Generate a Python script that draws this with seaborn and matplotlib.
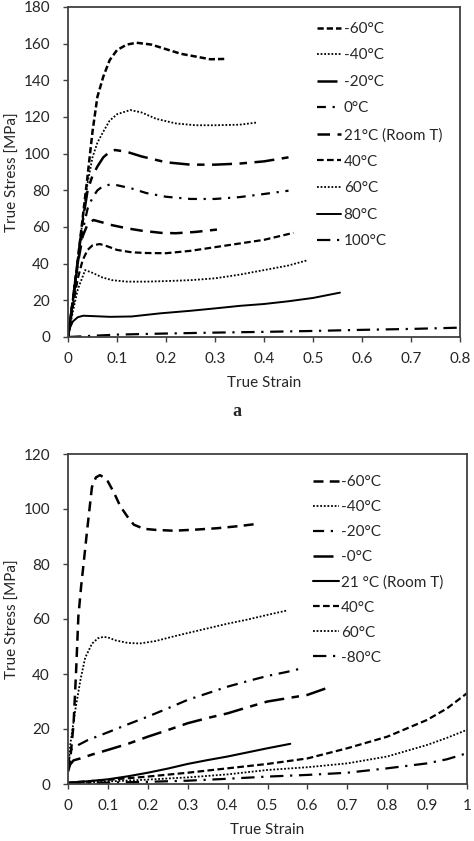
import matplotlib.pyplot as plt
import seaborn as sns
import numpy as np

sns.set_style("white")
plt.rcParams['font.family'] = ['Lato', 'DejaVu Sans']

# ==========================================
# DATA: panel (a)
# ==========================================
a_labels = ['-60°C', '-40°C', '-20°C', '0°C', '21°C (Room T)', '40°C', '60°C', '80°C', '100°C']

a_strain_m60 = [0, 0.01, 0.02, 0.03, 0.04, 0.05, 0.06, 0.072, 0.085, 0.1, 0.12, 0.14, 0.17, 0.2, 0.23, 0.26, 0.29, 0.324]
a_stress_m60 = [0, 20, 42, 65, 88, 112, 131, 142, 151, 156.5, 159.5, 160.5, 159.5, 157, 154.5, 153, 151.5, 151.7]

a_strain_m40 = [0, 0.01, 0.02, 0.03, 0.04, 0.05, 0.06, 0.072, 0.085, 0.1, 0.127, 0.15, 0.18, 0.22, 0.26, 0.3, 0.35, 0.386]
a_stress_m40 = [0, 20, 42, 64, 84, 98, 106, 112, 118, 121.5, 123.8, 122.5, 119, 116.5, 115.5, 115.5, 115.8, 117]

a_strain_m20 = [0, 0.01, 0.02, 0.03, 0.04, 0.05, 0.06, 0.072, 0.085, 0.096, 0.12, 0.15, 0.2, 0.25, 0.3, 0.35, 0.4, 0.45]
a_stress_m20 = [0, 20, 42, 63, 80, 88, 93, 98, 101, 102, 101, 98.5, 95.3, 94, 94, 94.6, 95.8, 98]

a_strain_0 = [0, 0.01, 0.02, 0.03, 0.04, 0.05, 0.06, 0.07, 0.086, 0.1, 0.13, 0.16, 0.2, 0.25, 0.3, 0.35, 0.4, 0.45]
a_stress_0 = [0, 20, 40, 58, 70, 76, 80, 82, 83.2, 82.8, 81, 78.5, 76.5, 75.3, 75.3, 76.3, 78, 79.8]

a_strain_21 = [0, 0.01, 0.02, 0.03, 0.04, 0.052, 0.07, 0.09, 0.12, 0.15, 0.19, 0.22, 0.26, 0.304]
a_stress_21 = [0, 20, 40, 55, 61.5, 63.8, 62.5, 61, 59.3, 58, 56.8, 56.6, 57.3, 58.6]

a_strain_40 = [0, 0.01, 0.02, 0.03, 0.04, 0.05, 0.065, 0.08, 0.1, 0.13, 0.16, 0.2, 0.25, 0.3, 0.35, 0.4, 0.46]
a_stress_40 = [0, 17, 32, 42, 47.5, 50, 50.7, 49.5, 47.5, 46.2, 45.8, 45.7, 47, 49, 51, 53, 56.8]

a_strain_60 = [0, 0.01, 0.02, 0.035, 0.05, 0.07, 0.09, 0.12, 0.16, 0.2, 0.25, 0.3, 0.35, 0.4, 0.45, 0.489]
a_stress_60 = [0, 14, 26, 36.5, 35, 32.5, 31, 30.2, 30.2, 30.5, 31, 32, 34, 36.5, 39, 41.9]

a_strain_80 = [0, 0.004, 0.01, 0.02, 0.031, 0.05, 0.086, 0.13, 0.188, 0.25, 0.3, 0.351, 0.4, 0.45, 0.5, 0.555]
a_stress_80 = [0, 5, 8.5, 10.8, 11.6, 11.4, 11, 11.2, 12.9, 14.3, 15.6, 17, 18, 19.5, 21.3, 24.2]

a_strain_100 = [0, 0.1, 0.2, 0.3, 0.4, 0.5, 0.6, 0.7, 0.8]
a_stress_100 = [0, 1.3, 1.9, 2.4, 2.8, 3.3, 3.9, 4.4, 5.1]

# ==========================================
# DATA: panel (b)
# ==========================================
b_labels = ['-60°C', '-40°C', '-20°C', '-0°C', '21 °C (Room T)', '40°C', '60°C', '-80°C']

b_strain_m60 = [0, 0.005, 0.014, 0.02, 0.026, 0.033, 0.039, 0.047, 0.06, 0.07, 0.08, 0.09, 0.1, 0.115, 0.131, 0.15, 0.165, 0.19, 0.22, 0.265, 0.32, 0.373, 0.43, 0.48]
b_stress_m60 = [5, 8, 22, 40, 61, 72, 80, 91, 108, 111.5, 112.3, 111.5, 110, 106, 101, 97, 94.3, 92.8, 92.4, 92.1, 92.5, 93, 93.8, 94.7]

b_strain_m40 = [0, 0.006, 0.018, 0.031, 0.043, 0.06, 0.075, 0.089, 0.1, 0.12, 0.15, 0.18, 0.22, 0.26, 0.3, 0.35, 0.4, 0.45, 0.5, 0.549]
b_stress_m40 = [5, 14.7, 26.7, 37.7, 45.9, 51, 53, 53.5, 53.3, 52.2, 51.3, 51.1, 52, 53.5, 54.9, 56.6, 58.3, 59.8, 61.5, 63.1]

b_strain_m20 = [0, 0.004, 0.01, 0.05, 0.1, 0.15, 0.2, 0.25, 0.3, 0.35, 0.4, 0.45, 0.5, 0.55, 0.587]
b_stress_m20 = [6, 10.5, 13, 16, 18.8, 21.7, 24.5, 27.5, 30.6, 33, 35.4, 37.4, 39.3, 40.8, 42.1]

b_strain_0 = [0, 0.005, 0.014, 0.031, 0.06, 0.1, 0.15, 0.2, 0.25, 0.3, 0.35, 0.4, 0.45, 0.5, 0.55, 0.6, 0.647]
b_stress_0 = [4.5, 7, 8.6, 9.3, 10.7, 12.4, 14.6, 17.2, 19.6, 22.1, 24, 25.7, 27.9, 30, 31.2, 32.4, 34.8]

b_strain_21 = [0, 0.05, 0.1, 0.15, 0.2, 0.25, 0.3, 0.35, 0.4, 0.45, 0.5, 0.557]
b_stress_21 = [0.5, 1.0, 1.7, 2.8, 4.1, 5.6, 7.3, 8.7, 10, 11.5, 13, 14.6]

b_strain_40 = [0, 0.1, 0.2, 0.3, 0.4, 0.5, 0.6, 0.7, 0.8, 0.9, 0.95, 1.0]
b_stress_40 = [0.5, 1.5, 2.7, 4.1, 5.7, 7.3, 9.3, 13, 17.2, 23.3, 27.5, 33]

b_strain_60 = [0, 0.1, 0.2, 0.3, 0.4, 0.5, 0.6, 0.7, 0.8, 0.9, 0.95, 1.0]
b_stress_60 = [0.3, 0.9, 1.6, 2.4, 3.5, 5.1, 6.1, 7.5, 10, 14.2, 16.8, 19.7]

b_strain_80 = [0, 0.1, 0.2, 0.3, 0.4, 0.5, 0.6, 0.7, 0.8, 0.9, 0.95, 1.0]
b_stress_80 = [0.2, 0.5, 0.8, 1.2, 1.9, 2.7, 3.3, 4.1, 5.7, 7.5, 9, 11.2]

a_xticks = [0, 0.1, 0.2, 0.3, 0.4, 0.5, 0.6, 0.7, 0.8]
a_yticks = [0, 20, 40, 60, 80, 100, 120, 140, 160, 180]
b_xticks = [0, 0.1, 0.2, 0.3, 0.4, 0.5, 0.6, 0.7, 0.8, 0.9, 1]
b_yticks = [0, 20, 40, 60, 80, 100, 120]

# line styles (Excel-like dash patterns)
a_styles = [(0, (2.5, 1.2)), (0, (1, 1)), (0, (8, 3, 3, 3)), (0, (4, 3, 1, 3)),
            (0, (5, 3)), (0, (3, 1.5)), (0, (1, 1)), '-', (0, (6, 3, 1, 3))]
b_styles = [(0, (4, 2.5)), (0, (1, 1)), (0, (5, 3, 1, 3)), (0, (8, 3, 3, 3)),
            '-', (0, (3, 1.5)), (0, (1, 1)), (0, (6, 3, 1, 3))]
a_widths = [1.8, 1.3, 1.8, 1.6, 1.8, 1.6, 1.3, 1.4, 1.6]
b_widths = [1.8, 1.3, 1.6, 1.8, 1.5, 1.6, 1.3, 1.6]

FS = 11
W, H = 474, 841
fig = plt.figure(figsize=(W / 100, H / 100), dpi=100)
ax1 = fig.add_axes([68 / W, 1 - 337 / H, 392 / W, 330 / H])
ax2 = fig.add_axes([68 / W, 1 - 784 / H, 399 / W, 330 / H])


def fmt(v):
    return f"{v:g}"


def style_axes(ax, xticks, yticks, width_px):
    ax.set_xlim(xticks[0], xticks[-1])
    ax.set_ylim(yticks[0], yticks[-1])
    ax.set_xticks(xticks)
    ax.set_yticks(yticks)
    ax.set_xticklabels([fmt(v) for v in xticks])
    ax.set_yticklabels([fmt(v) for v in yticks])
    for s in ax.spines.values():
        s.set_color('#404040')
        s.set_linewidth(1.3)
    ax.tick_params(axis='x', direction='out', length=3.6, width=1, color='#404040',
                   labelsize=FS, pad=7, bottom=True)
    ax.tick_params(axis='y', direction='out', length=3.6, width=1, color='#404040',
                   labelsize=FS, pad=9.4, left=True)
    ax.set_xlabel("True Strain", fontsize=FS)
    ax.set_ylabel("True Stress [MPa]", fontsize=FS)
    ax.xaxis.set_label_coords(0.5, -39 / 330)
    ax.yaxis.set_label_coords(-48 / width_px, 0.5)
    ax.grid(False)


a_series = [(a_strain_m60, a_stress_m60), (a_strain_m40, a_stress_m40), (a_strain_m20, a_stress_m20),
            (a_strain_0, a_stress_0), (a_strain_21, a_stress_21), (a_strain_40, a_stress_40),
            (a_strain_60, a_stress_60), (a_strain_80, a_stress_80), (a_strain_100, a_stress_100)]
b_series = [(b_strain_m60, b_stress_m60), (b_strain_m40, b_stress_m40), (b_strain_m20, b_stress_m20),
            (b_strain_0, b_stress_0), (b_strain_21, b_stress_21), (b_strain_40, b_stress_40),
            (b_strain_60, b_stress_60), (b_strain_80, b_stress_80)]

for (x, y), lab, ls, lw in zip(a_series, a_labels, a_styles, a_widths):
    sns.lineplot(x=x, y=y, ax=ax1, color='black', linestyle=ls, lw=lw, label=lab,
                 sort=False, estimator=None)
for (x, y), lab, ls, lw in zip(b_series, b_labels, b_styles, b_widths):
    sns.lineplot(x=x, y=y, ax=ax2, color='black', linestyle=ls, lw=lw, label=lab,
                 sort=False, estimator=None)

style_axes(ax1, a_xticks, a_yticks, 392)
style_axes(ax2, b_xticks, b_yticks, 399)

ax1.legend(loc='upper left', bbox_to_anchor=(0.635, 0.955), frameon=False, fontsize=FS,
           handlelength=1.6, handletextpad=0.15, labelspacing=0.82, borderpad=0, borderaxespad=0)
ax2.legend(loc='upper left', bbox_to_anchor=(0.614, 0.935), frameon=False, fontsize=FS,
           handlelength=1.7, handletextpad=0.15, labelspacing=0.72, borderpad=0, borderaxespad=0)

fig.text(237 / W, 1 - 412 / H, 'a', ha='center', va='center', fontsize=13,
         fontweight='bold', family='Liberation Serif')

plt.savefig('out.png', dpi=100)
